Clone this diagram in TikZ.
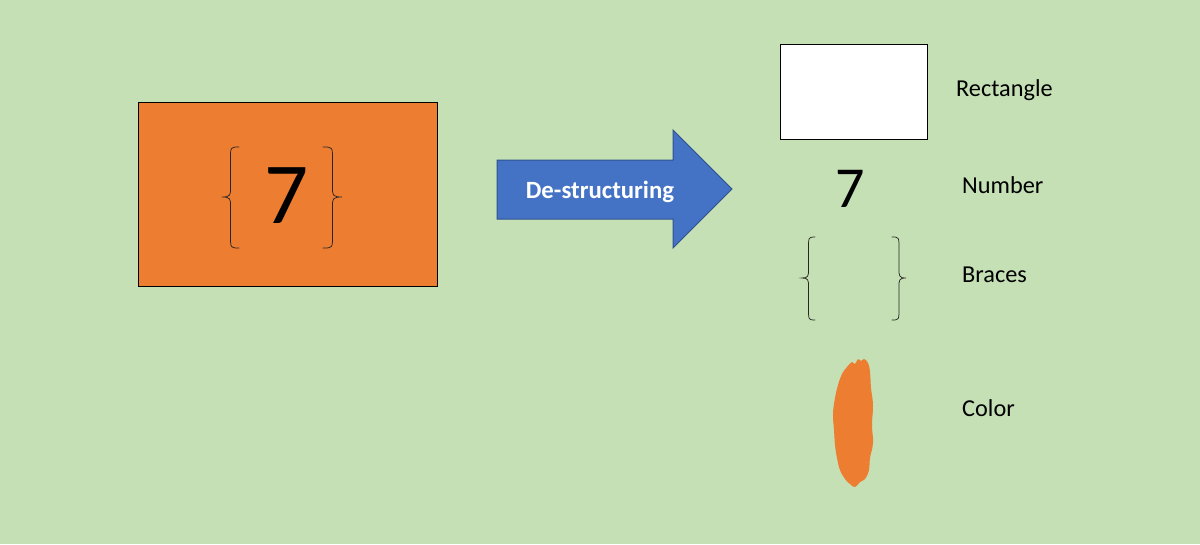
\documentclass[tikz,border=0pt]{standalone}
\usepackage{fontspec}
\setmainfont{Carlito}
\definecolor{bggreen}{HTML}{C5E0B4}
\definecolor{orangefill}{HTML}{ED7D31}
\definecolor{arrowblue}{HTML}{4472C4}
\definecolor{arrowedge}{HTML}{2F528F}
\tikzset{
  bracestyle/.style={draw=black!85, line width=0.75pt, line cap=round},
  labeltext/.style={font=\fontsize{24.3}{28}\selectfont, text=black, inner sep=0pt, anchor=base west},
}
\newcommand\drawbrace[6]{%
  \draw[bracestyle] (#1,#4) .. controls (#2,#4) and (#2,#4) .. (#2,#4+12) -- (#2,#5-9)
    .. controls (#2,#5-2) and (#2,#5) .. (#3,#5) .. controls (#2,#5) and (#2,#5+2) .. (#2,#5+9)
    -- (#2,#6-12) .. controls (#2,#6) and (#2,#6) .. (#1,#6);}
\begin{document}
\begin{tikzpicture}[x=1pt,y=-1pt]
\fill[bggreen] (0,0) rectangle (1200,544);
\useasboundingbox (0,0) rectangle (1200,544);
% left orange rectangle
\node[draw=black, line width=1pt, fill=orangefill, minimum width=299pt, minimum height=184pt, inner sep=0pt] (src) at (287.5,194) {};
\node[inner sep=0pt, font=\fontsize{87}{90}\selectfont] (bigseven) at (287,196) {7};
\drawbrace{239}{230.5}{222}{147}{197}{248}
\drawbrace{323}{332.5}{342}{147}{197}{248}
% arrow
\draw[fill=arrowblue, draw=arrowedge, line width=1pt] (497,160) -- (673,160) -- (673,130) -- (732,189) -- (673,248) -- (673,219) -- (497,219) -- cycle;
\node[inner sep=0pt, anchor=base, text=white, font=\bfseries\fontsize{24.8}{28}\selectfont] (arrowlabel) at (600,198) {De-structuring};
% right items
\node[draw=black, line width=1pt, fill=white, minimum width=147pt, minimum height=95pt, inner sep=0pt] (rect) at (853.5,91.5) {};
\node[inner sep=0pt, font=\fontsize{58}{60}\selectfont] (smallseven) at (850,189) {7};
\drawbrace{815}{808.5}{802}{237}{278}{320}
\drawbrace{892}{899}{906}{237}{278}{320}
\fill[orangefill] plot[smooth cycle, tension=0.7] coordinates {
  (847,367) (852,362) (855,364) (858,359) (861,361) (864,359) (868,363)
  (870,372) (871,388) (873,405) (872,425) (873,443) (870,458) (869,470)
  (865,479) (860,482) (855,487) (850,484) (845,479) (840,470)
  (837,458) (835,445) (834,430) (833,414) (835,398) (838,385) (842,374)};
\node[labeltext] (lrect) at (956,96) {Rectangle};
\node[labeltext] (lnum) at (962,193) {Number};
\node[labeltext] (lbr) at (962,282) {Braces};
\node[labeltext] (lcol) at (962,416) {Color};
\end{tikzpicture}
\end{document}
